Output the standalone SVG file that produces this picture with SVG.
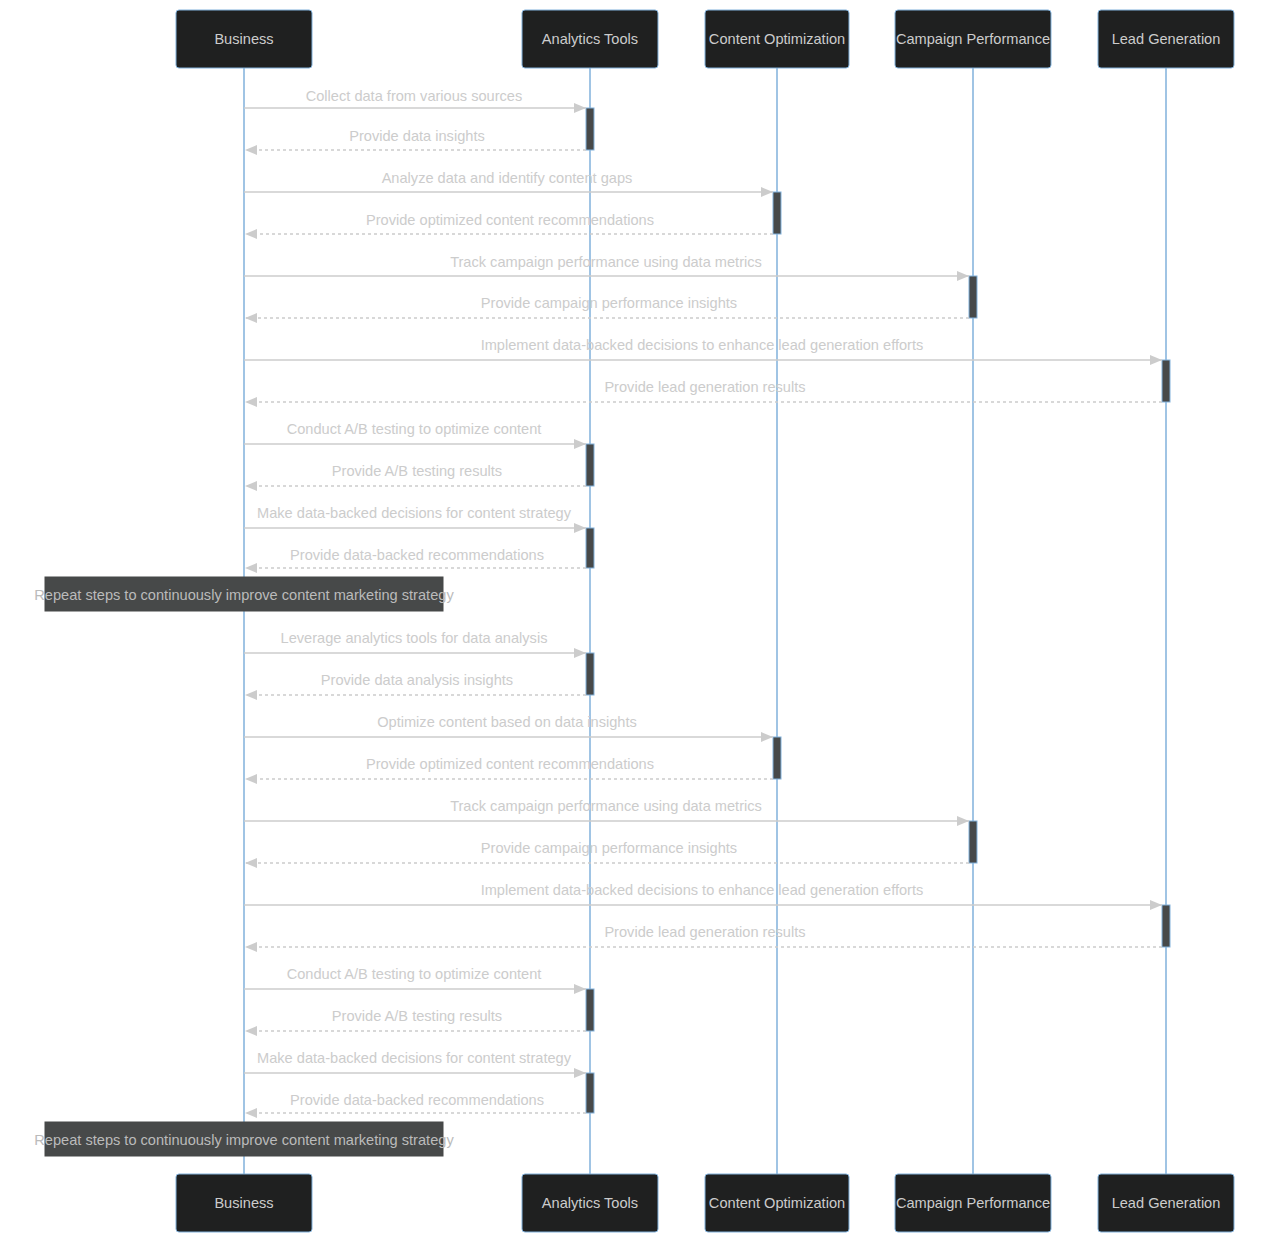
<svg xmlns="http://www.w3.org/2000/svg" width="1280" height="1243" viewBox="0 0 1280 1243">
<style>
.box{fill:#1f2020;stroke:#81B1DB;stroke-width:1}
.bt{font-family:"Liberation Sans",Arial,sans-serif;font-size:14.6px;fill:#ccc;text-anchor:middle;dominant-baseline:central}
.life{stroke:#81B1DB;stroke-width:1.5}
.msg{stroke:#ccc;stroke-width:1.5;fill:none}
.ret{stroke:#ccc;stroke-width:1.5;fill:none;stroke-dasharray:3,3}
.mt{font-family:"Liberation Sans",Arial,sans-serif;font-size:14.6px;fill:#ccc;text-anchor:middle}
.nt{font-family:"Liberation Sans",Arial,sans-serif;font-size:14.6px;fill:#bbb;text-anchor:middle}
.act{fill:#474949;stroke:#81B1DB;stroke-width:1}
.note{fill:#474949;stroke:#474949}
</style>
<defs>
<marker id="ah" viewBox="0 0 12 10" refX="12" refY="5" markerWidth="12" markerHeight="10" markerUnits="userSpaceOnUse" orient="auto"><path d="M0,0 L12,5 L0,10 z" fill="#ccc"/></marker>
</defs>
<g id="lifelines">
<line class="life" x1="244" y1="68" x2="244" y2="1174"/>
<line class="life" x1="590" y1="68" x2="590" y2="1174"/>
<line class="life" x1="777" y1="68" x2="777" y2="1174"/>
<line class="life" x1="973" y1="68" x2="973" y2="1174"/>
<line class="life" x1="1166" y1="68" x2="1166" y2="1174"/>
</g>
<g id="business"><rect class="box" x="176" y="10" width="136" height="58" rx="3"/><text class="bt" x="244" y="39">Business</text><rect class="box" x="176" y="1174" width="136" height="58" rx="3"/><text class="bt" x="244" y="1203">Business</text></g>
<g id="analytics"><rect class="box" x="522" y="10" width="136" height="58" rx="3"/><text class="bt" x="590" y="39">Analytics Tools</text><rect class="box" x="522" y="1174" width="136" height="58" rx="3"/><text class="bt" x="590" y="1203">Analytics Tools</text></g>
<g id="content"><rect class="box" x="705" y="10" width="144" height="58" rx="3"/><text class="bt" x="777" y="39">Content Optimization</text><rect class="box" x="705" y="1174" width="144" height="58" rx="3"/><text class="bt" x="777" y="1203">Content Optimization</text></g>
<g id="campaign"><rect class="box" x="895" y="10" width="156" height="58" rx="3"/><text class="bt" x="973" y="39">Campaign Performance</text><rect class="box" x="895" y="1174" width="156" height="58" rx="3"/><text class="bt" x="973" y="1203">Campaign Performance</text></g>
<g id="lead"><rect class="box" x="1098" y="10" width="136" height="58" rx="3"/><text class="bt" x="1166" y="39">Lead Generation</text><rect class="box" x="1098" y="1174" width="136" height="58" rx="3"/><text class="bt" x="1166" y="1203">Lead Generation</text></g>
<g id="activations">
<rect class="act" x="586" y="108" width="8" height="42"/>
<rect class="act" x="773" y="192" width="8" height="42"/>
<rect class="act" x="969" y="276" width="8" height="42"/>
<rect class="act" x="1162" y="360" width="8" height="42"/>
<rect class="act" x="586" y="444" width="8" height="42"/>
<rect class="act" x="586" y="528" width="8" height="40"/>
<rect class="act" x="586" y="653" width="8" height="42"/>
<rect class="act" x="773" y="737" width="8" height="42"/>
<rect class="act" x="969" y="821" width="8" height="42"/>
<rect class="act" x="1162" y="905" width="8" height="42"/>
<rect class="act" x="586" y="989" width="8" height="42"/>
<rect class="act" x="586" y="1073" width="8" height="40"/>
</g>
<g id="connectors">
<line class="msg" x1="244" y1="108" x2="586" y2="108" marker-end="url(#ah)"/><text class="mt" x="414" y="101">Collect data from various sources</text>
<line class="ret" x1="586" y1="150" x2="245" y2="150" marker-end="url(#ah)"/><text class="mt" x="417" y="141">Provide data insights</text>
<line class="msg" x1="244" y1="192" x2="773" y2="192" marker-end="url(#ah)"/><text class="mt" x="507" y="183">Analyze data and identify content gaps</text>
<line class="ret" x1="773" y1="234" x2="245" y2="234" marker-end="url(#ah)"/><text class="mt" x="510" y="225">Provide optimized content recommendations</text>
<line class="msg" x1="244" y1="276" x2="969" y2="276" marker-end="url(#ah)"/><text class="mt" x="606" y="267">Track campaign performance using data metrics</text>
<line class="ret" x1="969" y1="318" x2="245" y2="318" marker-end="url(#ah)"/><text class="mt" x="609" y="308">Provide campaign performance insights</text>
<line class="msg" x1="244" y1="360" x2="1162" y2="360" marker-end="url(#ah)"/><text class="mt" x="702" y="350">Implement data-backed decisions to enhance lead generation efforts</text>
<line class="ret" x1="1162" y1="402" x2="245" y2="402" marker-end="url(#ah)"/><text class="mt" x="705" y="392">Provide lead generation results</text>
<line class="msg" x1="244" y1="444" x2="586" y2="444" marker-end="url(#ah)"/><text class="mt" x="414" y="434">Conduct A/B testing to optimize content</text>
<line class="ret" x1="586" y1="486" x2="245" y2="486" marker-end="url(#ah)"/><text class="mt" x="417" y="476">Provide A/B testing results</text>
<line class="msg" x1="244" y1="528" x2="586" y2="528" marker-end="url(#ah)"/><text class="mt" x="414" y="518">Make data-backed decisions for content strategy</text>
<line class="ret" x1="586" y1="568" x2="245" y2="568" marker-end="url(#ah)"/><text class="mt" x="417" y="560">Provide data-backed recommendations</text>
<line class="msg" x1="244" y1="653" x2="586" y2="653" marker-end="url(#ah)"/><text class="mt" x="414" y="643">Leverage analytics tools for data analysis</text>
<line class="ret" x1="586" y1="695" x2="245" y2="695" marker-end="url(#ah)"/><text class="mt" x="417" y="685">Provide data analysis insights</text>
<line class="msg" x1="244" y1="737" x2="773" y2="737" marker-end="url(#ah)"/><text class="mt" x="507" y="727">Optimize content based on data insights</text>
<line class="ret" x1="773" y1="779" x2="245" y2="779" marker-end="url(#ah)"/><text class="mt" x="510" y="769">Provide optimized content recommendations</text>
<line class="msg" x1="244" y1="821" x2="969" y2="821" marker-end="url(#ah)"/><text class="mt" x="606" y="811">Track campaign performance using data metrics</text>
<line class="ret" x1="969" y1="863" x2="245" y2="863" marker-end="url(#ah)"/><text class="mt" x="609" y="853">Provide campaign performance insights</text>
<line class="msg" x1="244" y1="905" x2="1162" y2="905" marker-end="url(#ah)"/><text class="mt" x="702" y="895">Implement data-backed decisions to enhance lead generation efforts</text>
<line class="ret" x1="1162" y1="947" x2="245" y2="947" marker-end="url(#ah)"/><text class="mt" x="705" y="937">Provide lead generation results</text>
<line class="msg" x1="244" y1="989" x2="586" y2="989" marker-end="url(#ah)"/><text class="mt" x="414" y="979">Conduct A/B testing to optimize content</text>
<line class="ret" x1="586" y1="1031" x2="245" y2="1031" marker-end="url(#ah)"/><text class="mt" x="417" y="1021">Provide A/B testing results</text>
<line class="msg" x1="244" y1="1073" x2="586" y2="1073" marker-end="url(#ah)"/><text class="mt" x="414" y="1063">Make data-backed decisions for content strategy</text>
<line class="ret" x1="586" y1="1113" x2="245" y2="1113" marker-end="url(#ah)"/><text class="mt" x="417" y="1105">Provide data-backed recommendations</text>
</g>
<g id="note1"><rect class="note" x="45" y="577" width="398" height="34"/><text class="nt" x="244" y="600">Repeat steps to continuously improve content marketing strategy</text></g>
<g id="note2"><rect class="note" x="45" y="1122" width="398" height="34"/><text class="nt" x="244" y="1145">Repeat steps to continuously improve content marketing strategy</text></g>
</svg>
